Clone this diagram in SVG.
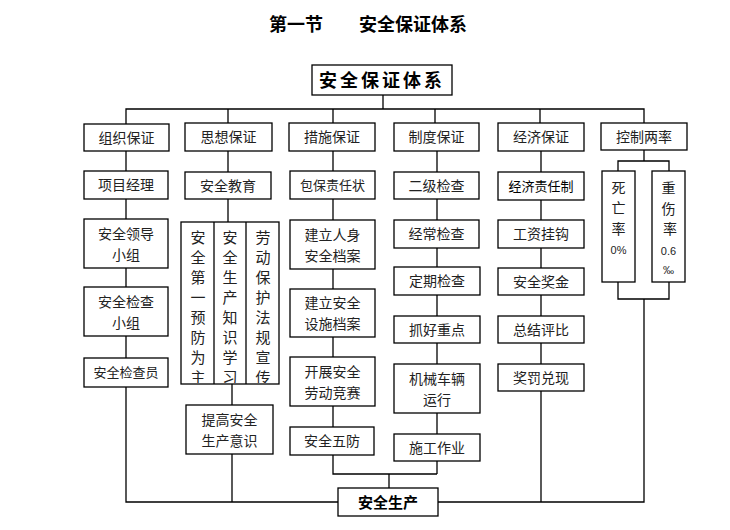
<svg xmlns="http://www.w3.org/2000/svg" width="730" height="530" viewBox="0 0 730 530">
<style>
rect{fill:#fff;stroke:#000;stroke-width:1.3}
.c line,.c polyline{stroke:#000;stroke-width:1.3;fill:none}
text{font-family:"Noto Sans CJK SC","Noto Sans",sans-serif;font-size:14px;fill:#222;text-anchor:middle}
.v{font-size:15px}
.b{font-weight:bold;fill:#000}
</style>
<defs><clipPath id="tc"><rect x="181" y="222" width="98" height="161"/></clipPath></defs>
<rect x="0" y="0" width="730" height="530" style="stroke:none"/>
<text x="368" y="31" class="b" style="font-size:18px">第一节　　安全保证体系</text>
<g class="c">
<polyline points="383,95 383,109"/>
<polyline points="126,124 126,109 644,109 644,123"/>
<line x1="228" y1="109" x2="228" y2="123"/><line x1="333" y1="109" x2="333" y2="123"/>
<line x1="435" y1="109" x2="435" y2="123"/><line x1="540" y1="109" x2="540" y2="123"/>
<line x1="126" y1="151" x2="126" y2="358"/>
<polyline points="126,387 126,502 338,502"/>
<line x1="228" y1="151" x2="228" y2="222"/>
<line x1="232" y1="384" x2="232" y2="502"/>
<line x1="333" y1="151" x2="333" y2="427"/>
<polyline points="333,455 333,474 437,474"/>
<line x1="389" y1="474" x2="389" y2="488"/>
<line x1="437" y1="151" x2="437" y2="474"/>
<line x1="541" y1="151" x2="541" y2="502"/>
<polyline points="438,502 644,502 644,299"/>
<polyline points="644,150 644,161"/>
<polyline points="618,171 618,161 669,161 669,171"/>
<polyline points="618,282 618,299 669,299 669,282"/>
</g>
<g id="root"><rect x="312" y="65" width="140" height="30"/><text x="382" y="87" class="b" style="font-size:18px;letter-spacing:3px">安全保证体系</text></g>
<g id="c1"><rect x="84" y="124" width="85" height="27"/><text x="126.5" y="143">组织保证</text></g>
<g id="c2"><rect x="185" y="123" width="87" height="28"/><text x="228.5" y="142">思想保证</text></g>
<g id="c3"><rect x="289" y="123" width="86" height="28"/><text x="332" y="142">措施保证</text></g>
<g id="c4"><rect x="394" y="123" width="85" height="28"/><text x="436.5" y="142">制度保证</text></g>
<g id="c5"><rect x="498" y="123" width="86" height="28"/><text x="541" y="142">经济保证</text></g>
<g id="c6"><rect x="601" y="123" width="86" height="27"/><text x="644" y="142">控制两率</text></g>
<g id="n11"><rect x="84" y="171" width="84" height="28"/><text x="126" y="190">项目经理</text></g>
<g id="n12"><rect x="84" y="219" width="84" height="49"/><text x="126" y="239">安全领导</text><text x="126" y="260">小组</text></g>
<g id="n13"><rect x="84" y="287" width="84" height="49"/><text x="126" y="307">安全检查</text><text x="126" y="328">小组</text></g>
<g id="n14"><rect x="84" y="358" width="84" height="29"/><text x="126" y="377" style="font-size:13px">安全检查员</text></g>
<g id="n21"><rect x="185" y="172" width="86" height="27"/><text x="228" y="191">安全教育</text></g>
<g id="n22"><rect x="181" y="222" width="98" height="162"/>
<line x1="214" y1="222" x2="214" y2="384" stroke="#000" stroke-width="1.3"/><line x1="246" y1="222" x2="246" y2="384" stroke="#000" stroke-width="1.3"/>
<g clip-path="url(#tc)" class="v">
<text x="198" y="243" class="v">安</text><text x="198" y="263" class="v">全</text><text x="198" y="283" class="v">第</text><text x="198" y="303" class="v">一</text><text x="198" y="323" class="v">预</text><text x="198" y="343" class="v">防</text><text x="198" y="363" class="v">为</text><text x="198" y="383" class="v">主</text>
<text x="230" y="243" class="v">安</text><text x="230" y="263" class="v">全</text><text x="230" y="283" class="v">生</text><text x="230" y="303" class="v">产</text><text x="230" y="323" class="v">知</text><text x="230" y="343" class="v">识</text><text x="230" y="363" class="v">学</text><text x="230" y="383" class="v">习</text>
<text x="263" y="243" class="v">劳</text><text x="263" y="263" class="v">动</text><text x="263" y="283" class="v">保</text><text x="263" y="303" class="v">护</text><text x="263" y="323" class="v">法</text><text x="263" y="343" class="v">规</text><text x="263" y="363" class="v">宣</text><text x="263" y="383" class="v">传</text>
</g></g>
<g id="n23"><rect x="186" y="405" width="87" height="49"/><text x="229.5" y="425">提高安全</text><text x="229.5" y="446">生产意识</text></g>
<g id="n31"><rect x="290" y="171" width="85" height="28"/><text x="332.5" y="190" style="font-size:13px">包保责任状</text></g>
<g id="n32"><rect x="290" y="220" width="85" height="49"/><text x="332.5" y="240">建立人身</text><text x="332.5" y="261">安全档案</text></g>
<g id="n33"><rect x="290" y="289" width="85" height="48"/><text x="332.5" y="308">建立安全</text><text x="332.5" y="329">设施档案</text></g>
<g id="n34"><rect x="290" y="357" width="85" height="49"/><text x="332.5" y="377">开展安全</text><text x="332.5" y="398">劳动竞赛</text></g>
<g id="n35"><rect x="290" y="427" width="84" height="28"/><text x="332" y="446">安全五防</text></g>
<g id="n41"><rect x="394" y="172" width="85" height="27"/><text x="436.5" y="191">二级检查</text></g>
<g id="n42"><rect x="394" y="220" width="85" height="28"/><text x="436.5" y="239">经常检查</text></g>
<g id="n43"><rect x="394" y="267" width="86" height="28"/><text x="437" y="286">定期检查</text></g>
<g id="n44"><rect x="394" y="316" width="86" height="27"/><text x="437" y="335">抓好重点</text></g>
<g id="n45"><rect x="394" y="364" width="86" height="49"/><text x="437" y="384">机械车辆</text><text x="437" y="405">运行</text></g>
<g id="n46"><rect x="394" y="434" width="86" height="27"/><text x="437" y="453">施工作业</text></g>
<g id="n51"><rect x="498" y="172" width="86" height="28"/><text x="541" y="191" style="font-size:13px;fill:#000">经济责任制</text></g>
<g id="n52"><rect x="498" y="220" width="86" height="28"/><text x="541" y="239">工资挂钩</text></g>
<g id="n53"><rect x="498" y="268" width="86" height="27"/><text x="541" y="287">安全奖金</text></g>
<g id="n54"><rect x="498" y="316" width="86" height="27"/><text x="541" y="335">总结评比</text></g>
<g id="n55"><rect x="498" y="364" width="86" height="27"/><text x="541" y="383">奖罚兑现</text></g>
<g id="n61"><rect x="602" y="171" width="33" height="111"/><text x="618.5" y="193">死</text><text x="618.5" y="213">亡</text><text x="618.5" y="234">率</text><text x="618.5" y="254" style="font-size:11px;font-family:'Liberation Sans Narrow','Liberation Sans',sans-serif">0%</text></g>
<g id="n62"><rect x="652" y="171" width="33" height="111"/><text x="668.5" y="193">重</text><text x="668.5" y="214">伤</text><text x="670" y="234">率</text><text x="668.5" y="255" style="font-size:11px;font-family:'Liberation Sans',sans-serif">0.6</text><text x="668.5" y="274" style="font-size:11px;font-family:'Liberation Sans',sans-serif">‰</text></g>
<g id="out"><rect x="338" y="488" width="100" height="28"/><text x="388" y="508" class="b" style="font-size:15px">安全生产</text></g>
</svg>
